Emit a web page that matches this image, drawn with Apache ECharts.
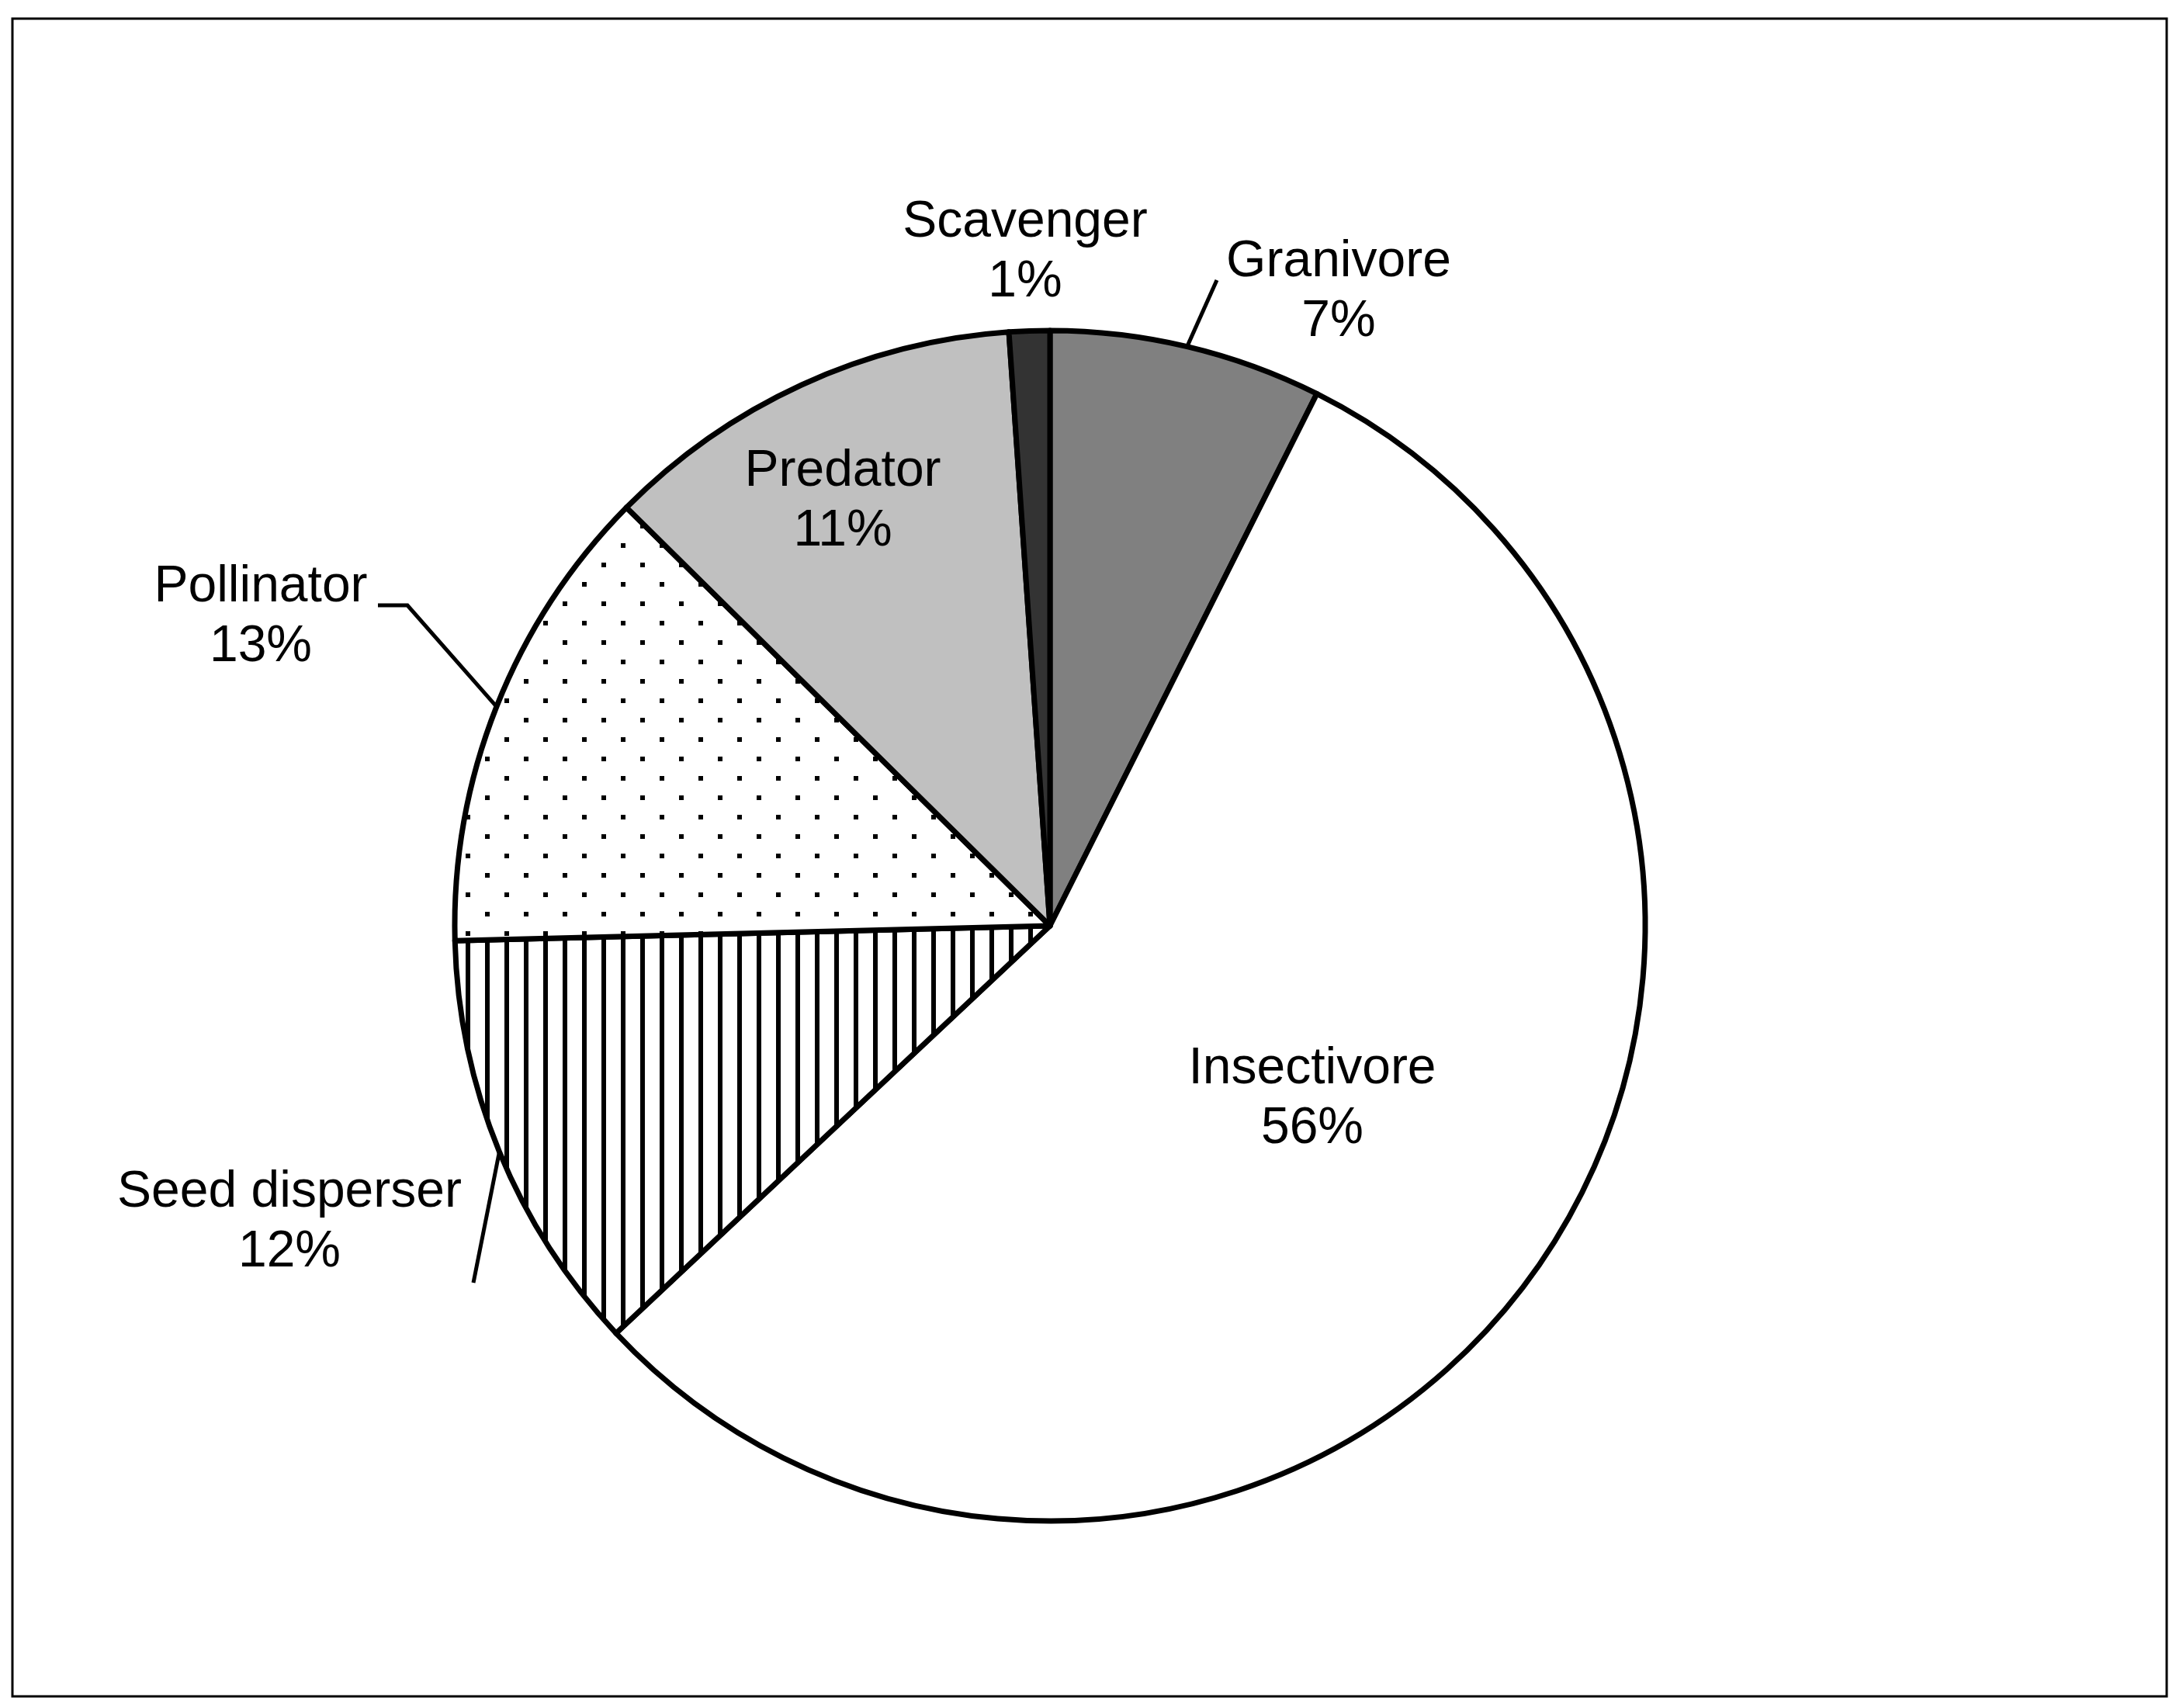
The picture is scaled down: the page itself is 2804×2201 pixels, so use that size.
<!DOCTYPE html>
<html>
<head>
<meta charset="utf-8">
<style>
html,body{margin:0;padding:0;background:#ffffff;}
#chart{width:2804px;height:2201px;}
</style>
<script src="https://cdn.jsdelivr.net/npm/echarts@6/dist/echarts.min.js"></script>
</head>
<body>
<div id="chart"></div>
<script>
// ---- data ----
const categories = ['Granivore', 'Insectivore', 'Seed disperser', 'Pollinator', 'Predator', 'Scavenger'];
const shares = [7.4, 55.6, 11.6, 12.8, 11.5, 1.1];

// ---- styling (not data) ----
const fills = ['#808080', '#ffffff', 'stripes', 'dots', '#c0c0c0', '#333333'];
const insideLabel = [false, true, false, false, true, false];
const showLeader = [true, false, true, true, false, false];
const labelCenters = [[1725, 376], [1691, 1416], [373, 1575], [336, 795], [1086, 646], [1321, 325]];
const leaderBends = [[[1568, 361]], null, [[610, 1653]], [[525, 780], [487, 780]], null, null];

function makePattern(kind) {
  const c = document.createElement('canvas');
  const ctx = c.getContext('2d');
  if (kind === 'stripes') {
    c.width = 25; c.height = 25;
    ctx.fillStyle = '#ffffff'; ctx.fillRect(0, 0, 25, 25);
    ctx.fillStyle = '#000000'; ctx.fillRect(0, 0, 6, 25);
  } else {
    c.width = 50; c.height = 50;
    ctx.fillStyle = '#ffffff'; ctx.fillRect(0, 0, 50, 50);
    ctx.fillStyle = '#000000';
    ctx.fillRect(0, 0, 6, 6);
    ctx.fillRect(25, 25, 6, 6);
  }
  return { image: c, repeat: 'repeat' };
}

function fillFor(f) {
  return (f === 'stripes' || f === 'dots') ? makePattern(f) : f;
}

const pieData = categories.map(function (name, i) {
  return {
    name: name,
    value: shares[i],
    itemStyle: { color: fillFor(fills[i]) },
    label: { position: insideLabel[i] ? 'inside' : 'outside' },
    labelLine: { show: showLeader[i] }
  };
});

const chart = echarts.init(document.getElementById('chart'), null, { renderer: 'canvas' });

chart.setOption({
  backgroundColor: '#ffffff',
  animation: false,
  graphic: [{
    type: 'rect',
    shape: { x: 16, y: 24, width: 2776, height: 2162 },
    style: { fill: 'none', stroke: '#000000', lineWidth: 3 },
    z: 10
  }],
  series: [{
    type: 'pie',
    center: [1353, 1193],
    radius: 767,
    startAngle: 90,
    clockwise: true,
    avoidLabelOverlap: false,
    percentPrecision: 0,
    emphasis: { disabled: true },
    itemStyle: { borderColor: '#000000', borderWidth: 7 },
    label: {
      show: true,
      formatter: '{b}\n{d}%',
      fontFamily: 'Liberation Sans, Arial, sans-serif',
      fontSize: 66,
      lineHeight: 77,
      color: '#000000',
      textBorderWidth: 0,
      align: 'center'
    },
    labelLine: {
      show: true,
      length: 40,
      length2: 40,
      lineStyle: { color: '#000000', width: 5 }
    },
    labelLayout: function (params) {
      const i = params.dataIndex;
      const out = {
        x: labelCenters[i][0],
        y: labelCenters[i][1],
        align: 'center',
        verticalAlign: 'middle'
      };
      if (leaderBends[i] && params.labelLinePoints && params.labelLinePoints.length) {
        out.labelLinePoints = [params.labelLinePoints[0]].concat(leaderBends[i]);
      }
      return out;
    },
    data: pieData
  }]
});
</script>
</body>
</html>
